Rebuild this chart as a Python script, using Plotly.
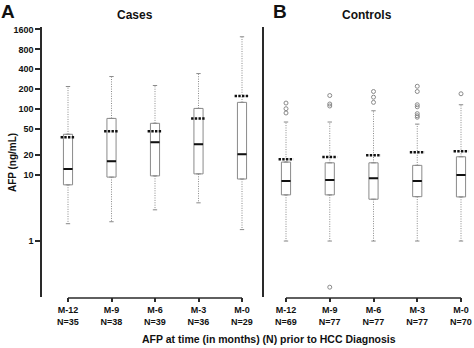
import plotly.graph_objects as go

W, H = 474, 348

# Time points before diagnosis
labels = ["M-12", "M-9", "M-6", "M-3", "M-0"]

# Cases: AFP (ng/mL) box summaries
cases_n = [35, 38, 39, 36, 29]
cases_q1 = [7.1, 9.3, 9.7, 10.4, 8.7]
cases_median = [12.3, 16.2, 31.4, 29.3, 20.7]
cases_q3 = [41.4, 72, 60.7, 102, 126]
cases_low = [1.83, 1.96, 2.97, 3.79, 1.49]
cases_high = [219, 310, 227, 344, 1240]
cases_mean = [37.3, 46, 46, 72, 158]
cases_outliers = [[], [], [], [], []]

# Controls: AFP (ng/mL) box summaries
controls_n = [69, 77, 77, 77, 70]
controls_q1 = [5.0, 5.0, 4.3, 4.7, 4.66]
controls_median = [8.1, 8.4, 8.9, 8.1, 10.0]
controls_q3 = [15.7, 15.3, 15.3, 14.0, 18.9]
controls_low = [1.0, 1.0, 1.0, 1.0, 1.0]
controls_high = [63.5, 63.5, 94, 59, 116]
controls_mean = [17.4, 18.7, 20, 22.2, 23]
controls_outliers = [
    [123, 101, 87],
    [160, 119, 111, 0.2],
    [184, 151, 126],
    [221, 184, 116, 108, 85, 79, 75],
    [170],
]

y_ticks = [1, 10, 20, 50, 100, 200, 400, 800, 1600]

FONT = "Liberation Sans, Arial, sans-serif"
INK = "#111111"
AXIS = "#2a2a2a"
BOXC = "#8a8a8a"


def px_x(p):
    return p / W


def px_y(p):
    return 1 - p / H


BOX_W = 0.21
CAP = 0.05
MEAN_HALF = 0.17

fig = go.Figure()


def add_panel(xa, ya, n, q1, med, q3, low, high, mean, outliers):
    xs = list(range(len(labels)))
    # whiskers (dotted)
    wx, wy = [], []
    for i in xs:
        wx += [i, i, None, i, i, None]
        wy += [q3[i], high[i], None, q1[i], low[i], None]
    fig.add_trace(go.Scatter(x=wx, y=wy, mode="lines", xaxis=xa, yaxis=ya,
                             line=dict(color=BOXC, width=1, dash="1px,1.4px"),
                             hoverinfo="skip", showlegend=False))
    # whisker caps
    cx, cy = [], []
    for i in xs:
        for v in (high[i], low[i]):
            cx += [i - CAP, i + CAP, None]
            cy += [v, v, None]
    fig.add_trace(go.Scatter(x=cx, y=cy, mode="lines", xaxis=xa, yaxis=ya,
                             line=dict(color=BOXC, width=1),
                             hoverinfo="skip", showlegend=False))
    # boxes
    fig.add_trace(go.Box(x=xs, q1=q1, median=med, q3=q3,
                         lowerfence=q1, upperfence=q3,
                         width=BOX_W, xaxis=xa, yaxis=ya,
                         fillcolor="white", line=dict(color=BOXC, width=1),
                         hoverinfo="skip", showlegend=False))
    # medians
    mx, my = [], []
    for i in xs:
        mx += [i - BOX_W / 2, i + BOX_W / 2, None]
        my += [med[i], med[i], None]
    fig.add_trace(go.Scatter(x=mx, y=my, mode="lines", xaxis=xa, yaxis=ya,
                             line=dict(color=INK, width=2),
                             hoverinfo="skip", showlegend=False))
    # outliers
    ox, oy = [], []
    for i in xs:
        for v in outliers[i]:
            ox.append(i)
            oy.append(v)
    if ox:
        fig.add_trace(go.Scatter(x=ox, y=oy, mode="markers", xaxis=xa, yaxis=ya,
                                 marker=dict(symbol="circle-open", size=4,
                                             color=BOXC, line=dict(width=1, color=BOXC)),
                                 hoverinfo="skip", showlegend=False))
    # means (dotted bars)
    ax, ay = [], []
    for i in xs:
        ax += [i - MEAN_HALF, i + MEAN_HALF, None]
        ay += [mean[i], mean[i], None]
    fig.add_trace(go.Scatter(x=ax, y=ay, mode="lines", xaxis=xa, yaxis=ya,
                             line=dict(color=INK, width=2.5, dash="2.4px,1.3px"),
                             hoverinfo="skip", showlegend=False))


add_panel("x", "y", cases_n, cases_q1, cases_median, cases_q3,
          cases_low, cases_high, cases_mean, cases_outliers)
add_panel("x2", "y2", controls_n, controls_q1, controls_median, controls_q3,
          controls_low, controls_high, controls_mean, controls_outliers)

y_domain = [px_y(297), px_y(25)]
y_range = [-0.852, 3.244]

# left panel: categories every 43.5 px starting at x=68
L0, L1, Lstep, Lfirst = 42, 263, 43.5, 68
R0, R1, Rstep, Rfirst = 264, 474, 43.75, 286

tick_font = dict(family=FONT, size=9, color=INK, weight="bold")


def cat_axis(x0, x1, step, first, n):
    r0 = -(first - x0) / step
    r1 = r0 + (x1 - x0) / step
    return dict(domain=[px_x(x0), px_x(x1)], range=[r0, r1],
                tickmode="array", tickvals=list(range(len(labels))),
                ticktext=[f"{m}<br>N={k}" for m, k in zip(labels, n)],
                ticks="outside", ticklen=4, tickwidth=1.5, tickcolor=AXIS,
                showline=False, showgrid=False, zeroline=False,
                tickfont=tick_font, fixedrange=True)


fig.update_layout(
    width=W, height=H, autosize=False,
    margin=dict(l=0, r=0, t=0, b=0),
    paper_bgcolor="white", plot_bgcolor="white",
    font=dict(family=FONT, color=INK),
    xaxis=cat_axis(L0, L1, Lstep, Lfirst, cases_n) | dict(anchor="y"),
    xaxis2=cat_axis(R0, R1, Rstep, Rfirst, controls_n) | dict(anchor="y2"),
    yaxis=dict(type="log", domain=y_domain, range=y_range, anchor="x",
               tickmode="array", tickvals=y_ticks,
               ticktext=[str(v) for v in y_ticks],
               ticks="outside", ticklen=5, tickwidth=1.5, tickcolor=AXIS,
               showline=True, linecolor=AXIS, linewidth=1.5,
               showgrid=False, zeroline=False, tickfont=tick_font,
               fixedrange=True),
    yaxis2=dict(type="log", domain=y_domain, range=y_range, anchor="x2",
                matches="y", showticklabels=False, ticks="",
                showline=True, linecolor=AXIS, linewidth=2,
                showgrid=False, zeroline=False, fixedrange=True),
    showlegend=False,
)

# category axis baselines spanning first to last time point
for xr in ("x", "x2"):
    fig.add_shape(type="line", xref=xr, yref="paper", x0=0, x1=len(labels) - 1,
                  y0=px_y(297.8), y1=px_y(297.8),
                  line=dict(color=AXIS, width=1.5))


def note(text, x, y, size, angle=0):
    fig.add_annotation(text=text, xref="paper", yref="paper",
                       x=px_x(x), y=px_y(y), xanchor="center", yanchor="middle",
                       showarrow=False, textangle=angle,
                       font=dict(family=FONT, size=size, color=INK, weight="bold"))


note("A", 8, 10, 19)
note("B", 280, 10, 19)
note("Cases", 135, 13, 12)
note("Controls", 367, 13, 12)
note("AFP (ng/mL)", 12, 162, 10, angle=-90)
note("AFP at time (in months) (N) prior to HCC Diagnosis", 269, 339, 10.5)

fig.write_html("out.html")
